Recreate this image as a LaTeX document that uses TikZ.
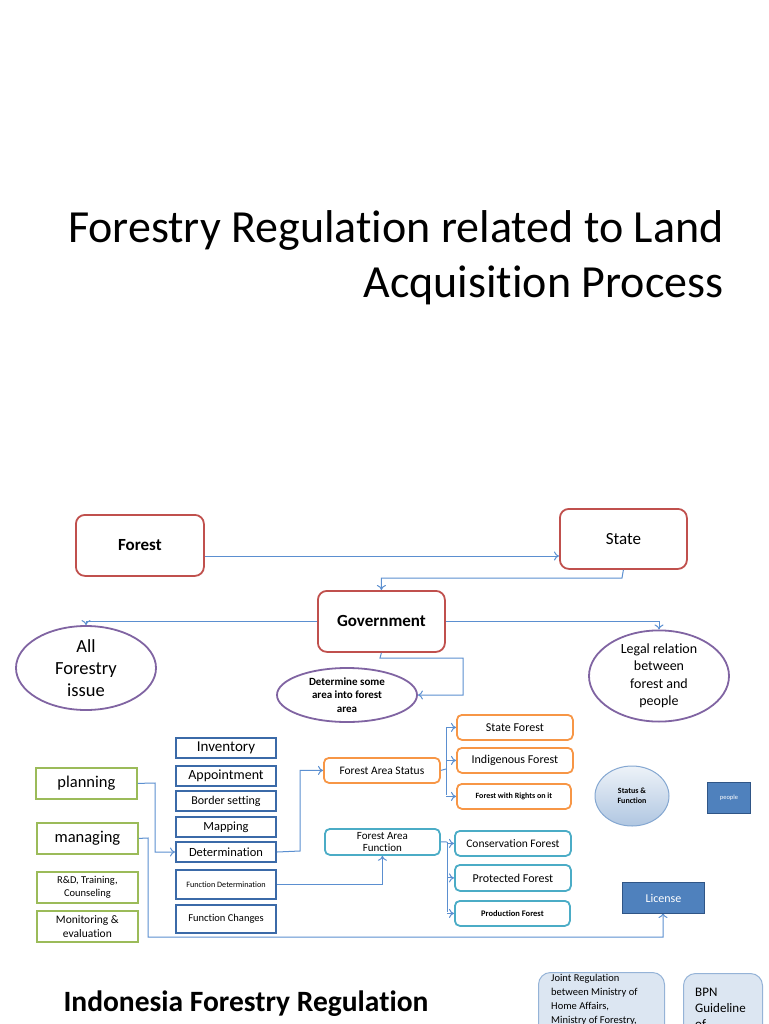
\documentclass[tikz,border=0pt]{standalone}
\usepackage{fontspec}
\setmainfont{Carlito}[Ligatures=NoCommon]
\usetikzlibrary{shapes.geometric,arrows.meta}
\definecolor{cred}{HTML}{C0504D}
\definecolor{cblue}{HTML}{4F81BD}
\definecolor{cdblue}{HTML}{3B6AA8}
\definecolor{cgreen}{HTML}{9BBB59}
\definecolor{corange}{HTML}{F79646}
\definecolor{cteal}{HTML}{4BACC6}
\definecolor{cpurple}{HTML}{8064A2}
\definecolor{cline}{HTML}{5B8FD0}
\tikzset{
 box/.style={draw,line width=1.8pt,inner sep=0pt,anchor=north west},
 redb/.style={box,cred,rounded corners=9pt,text=black,font=\fontsize{17}{19}\selectfont\bfseries},
 blueb/.style={box,cdblue,line width=2pt,text=black},
 greenb/.style={box,cgreen,text=black},
 orb/.style={box,corange,rounded corners=5pt,text=black},
 teb/.style={box,cteal,rounded corners=5pt,text=black},
 ell/.style={ellipse,draw=cpurple,line width=1.8pt,inner sep=0pt,text=black,align=center},
 fil/.style={box,draw=cdblue!80!black,line width=1pt,fill=cblue,text=white},
 lt/.style={box,draw=cblue!60,line width=1pt,fill=cblue!20,rounded corners=12pt,text=black},
 con/.style={draw=cline,line width=1pt},
 arr/.style={con,-{To[length=5pt,width=9pt]}},
}
\begin{document}
\begin{tikzpicture}[x=1pt,y=-1pt]
\useasboundingbox (0,0) rectangle (768,1024);
\clip (0,0) rectangle (768,1024);
\node[anchor=base east,font=\fontsize{46}{52}\selectfont] (title) at (727,242) {Forestry Regulation related to Land};
\node[anchor=base east,font=\fontsize{46}{52}\selectfont] (title2) at (727,297) {Acquisition Process};

\node[redb,minimum width=128pt,minimum height=61pt] (forest) at (75,514) {Forest};
\node[redb,minimum width=127pt,minimum height=60pt,font=\fontsize{17}{19}\selectfont] (state) at (559,508) {State};
\node[redb,minimum width=127pt,minimum height=61pt] (gov) at (317,590) {Government};

\node[ell,minimum width=140pt,minimum height=84pt,font=\fontsize{18.5}{22}\selectfont] (all) at (86,668) {All\\Forestry\\issue};
\node[ell,minimum width=140pt,minimum height=86pt,font=\fontsize{14}{17.5}\selectfont] (legal) at (659,676) {Legal relation\\between\\forest and\\people};
\node[ell,minimum width=140pt,minimum height=54pt,font=\fontsize{11}{13.5}\selectfont\bfseries] (det) at (347,695) {Determine some\\area into forest\\area};

\draw[arr] (forest.east |- 0,556) -- (state.west |- 0,556);
\draw[arr] (state.south) -- (622,578) -| (gov.north);
\draw[arr] (gov.west) -| (all.north);
\draw[arr] (gov.east) -| (legal.north);
\draw[arr] (gov.south) -- (380,658) -- (463,658) |- (det.east);

\foreach \n/\t/\y/\h/\f in {inv/Inventory/737/20/15, app/Appointment/765/20/14, bor/Border setting/790/20/12, map/Mapping/816/20/12.5, dtm/Determination/841/20/12.5, fd/Function Determination/869/29/8.2, fc/Function Changes/904/28/10.5}
  \node[blueb,minimum width=100pt,minimum height=\h pt,font=\fontsize{\f}{\f}\selectfont] (\n) at (175,\y) {\t};

\node[greenb,minimum width=101pt,minimum height=31pt,font=\fontsize{16.5}{18}\selectfont] (plan) at (35,767) {planning};
\node[greenb,minimum width=101pt,minimum height=31pt,font=\fontsize{16.5}{18}\selectfont] (man) at (36,822) {managing};
\node[greenb,minimum width=101pt,minimum height=31pt,font=\fontsize{10.5}{13}\selectfont,align=center] (rd) at (36,871) {R\&D, Training,\\Counseling};
\node[greenb,minimum width=101pt,minimum height=31pt,font=\fontsize{11.5}{14}\selectfont,align=center] (mon) at (36,910) {Monitoring \&\\evaluation};

\node[orb,minimum width=116pt,minimum height=25pt,font=\fontsize{11.5}{12}\selectfont] (fas) at (323,757) {Forest Area Status};
\node[teb,minimum width=115pt,minimum height=26pt,font=\fontsize{11}{12}\selectfont,align=center] (faf) at (324,828) {Forest Area\\Function};

\node[orb,minimum width=116pt,minimum height=25pt,font=\fontsize{12}{13}\selectfont] (sf) at (456,714) {State Forest};
\node[orb,minimum width=116pt,minimum height=25pt,font=\fontsize{12}{13}\selectfont] (ind) at (456,747) {Indigenous Forest};
\node[orb,minimum width=114pt,minimum height=25pt,font=\fontsize{8}{9}\selectfont\bfseries] (rig) at (456,783) {Forest with Rights on it};
\node[teb,minimum width=116pt,minimum height=25pt,font=\fontsize{11.5}{12}\selectfont] (con) at (454,830) {Conservation Forest};
\node[teb,minimum width=116pt,minimum height=26pt,font=\fontsize{12}{13}\selectfont] (pro) at (454,864) {Protected Forest};
\node[teb,minimum width=115pt,minimum height=25pt,font=\fontsize{8.5}{9}\selectfont\bfseries] (prd) at (454,900) {Production Forest};

\draw[arr] (plan.east) -- (155,783) |- (dtm.west);
\draw[arr] (man.east) -- (148,838) |- (663,937) -- (663,913);
\draw[arr] (dtm.east) -- (300,851) |- (fas.west);
\draw[arr] (fd.east) -| (faf.south);
\draw[con] (fas.east) -- (446,769);
\draw[con] (446,727) -- (446,795);
\foreach \t in {sf,ind,rig} \draw[arr] (446,0 |- \t.west) -- (\t.west);
\draw[con] (faf.east) -- (447,842);
\draw[con] (447,842) -- (447,912);
\foreach \t in {con,pro,prd} \draw[arr] (447,0 |- \t.west) -- (\t.west);

\node[ellipse,draw=cblue!70,line width=1pt,inner sep=0pt,minimum width=74pt,minimum height=60pt,top color=cblue!10,bottom color=cblue!45,font=\fontsize{8}{10}\selectfont\bfseries,align=center] (sfn) at (632,796) {Status \&\\Function};
\node[fil,minimum width=43pt,minimum height=31pt,font=\fontsize{6.5}{7}\selectfont] (ppl) at (707,782) {people};
\node[fil,minimum width=82pt,minimum height=31pt,font=\fontsize{12}{13}\selectfont] (lic) at (622,882) {License};

\node[anchor=base west,font=\fontsize{29.5}{32}\selectfont\bfseries] (ifr) at (60,1011) {Indonesia Forestry Regulation};
\node[lt,minimum width=126pt,minimum height=80pt] (joint) at (538,972) {};
\node[anchor=north west,align=left,font=\fontsize{10.5}{14}\selectfont,inner sep=0pt] (jt) at (551,974) {Joint Regulation\\between Ministry of\\Home Affairs,\\Ministry of Forestry,};
\node[lt,minimum width=79pt,minimum height=80pt] (bpn) at (683,973) {};
\node[anchor=north west,align=left,font=\fontsize{13}{16}\selectfont,inner sep=0pt] (bt) at (695,988) {BPN\\Guideline\\of};
\end{tikzpicture}
\end{document}
